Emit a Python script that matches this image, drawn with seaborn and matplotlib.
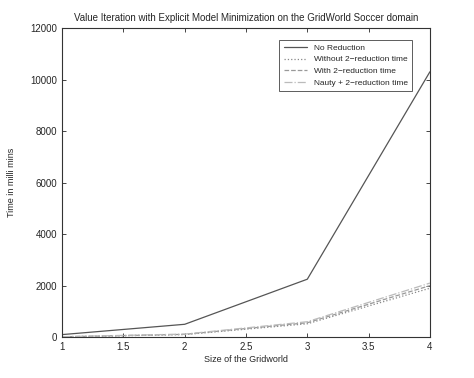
import numpy as np
import pandas as pd
import matplotlib
matplotlib.use('Agg')
import matplotlib.pyplot as plt
import seaborn as sns

sns.set_style('ticks')
plt.rcParams['font.family'] = ['Liberation Sans', 'DejaVu Sans']
plt.rcParams['font.size'] = 7

# data
grid_size = [1, 2, 3, 4]
no_reduction = [100, 500, 2250, 10300]
without_2red = [10, 100, 520, 1900]
with_2red = [15, 110, 560, 2000]
nauty_2red = [20, 120, 600, 2100]

series = {
    'No Reduction': (no_reduction, '-', '#555555'),
    'Without 2\u2212reduction time': (without_2red, ':', '#888888'),
    'With 2\u2212reduction time': (with_2red, '--', '#999999'),
    'Nauty + 2\u2212reduction time': (nauty_2red, '-.', '#bbbbbb'),
}

fig = plt.figure(figsize=(4.74, 3.78), dpi=100)
ax = fig.add_axes([0.131, 0.108, 0.776, 0.818])

for name, (vals, ls, col) in series.items():
    sns.lineplot(x=grid_size, y=vals, ax=ax, label=name, linestyle=ls, color=col, linewidth=0.9)

ax.set_xlim(1, 4)
ax.set_ylim(0, 12000)
ax.set_xticks([1, 1.5, 2, 2.5, 3, 3.5, 4])
ax.set_xticklabels(['1', '1.5', '2', '2.5', '3', '3.5', '4'])
ax.set_yticks(np.arange(0, 12001, 2000))
ax.tick_params(direction='in', top=True, right=True, length=3, width=0.6, labelsize=7)
for s in ax.spines.values():
    s.set_linewidth(0.8)
    s.set_color('#333333')

ax.set_xlabel('Size of the Gridworld', fontsize=6.5, labelpad=2)
ax.set_ylabel('Time in milli mins', fontsize=6.5, labelpad=10)
ax.set_title('Value Iteration with Explicit Model Minimization on the GridWorld Soccer domain', fontsize=7, pad=5)

leg = ax.legend(loc='upper right', fontsize=6, frameon=True, fancybox=False, handlelength=2.8,
                borderpad=0.5, labelspacing=0.45, bbox_to_anchor=(0.962, 0.975))
leg.get_frame().set_edgecolor('#333333')
leg.get_frame().set_linewidth(0.7)

fig.savefig('out.png', dpi=100)
